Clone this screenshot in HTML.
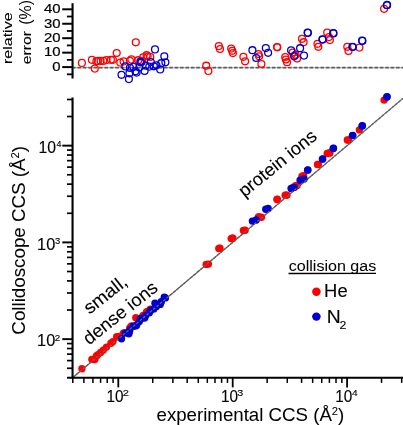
<!DOCTYPE html>
<html><head><meta charset="utf-8"><title>Collidoscope CCS</title>
<style>
html,body{margin:0;padding:0;background:#fff;}
svg{display:block;}
text{font-family:"Liberation Sans",sans-serif;}
</style></head><body>
<svg width="403" height="425" viewBox="0 0 403 425">
<defs><filter id="soft" x="0" y="0" width="403" height="425" filterUnits="userSpaceOnUse"><feGaussianBlur stdDeviation="0.32"/></filter></defs>
<rect width="403" height="425" fill="#fff"/>
<g filter="url(#soft)">
<line x1="73.55" y1="67.65" x2="403" y2="67.65" stroke="#b8b8b8" stroke-width="1.3"/>
<line x1="73.55" y1="67.65" x2="403" y2="67.65" stroke="#5c5c5c" stroke-width="1.6" stroke-dasharray="3.6 1.8" stroke-dashoffset="1.5"/>
<line x1="72.55" y1="377.70" x2="403" y2="98.37" stroke="#585858" stroke-width="1.15"/>
<g fill="#ff0000">
<circle cx="81.9" cy="368.7" r="3.7"/>
<circle cx="91.9" cy="359.4" r="3.7"/>
<circle cx="94.8" cy="359.5" r="3.7"/>
<circle cx="96.4" cy="356.0" r="3.7"/>
<circle cx="98.0" cy="354.6" r="3.7"/>
<circle cx="100.6" cy="352.4" r="3.7"/>
<circle cx="103.3" cy="350.1" r="3.7"/>
<circle cx="106.5" cy="347.1" r="3.7"/>
<circle cx="110.9" cy="343.3" r="3.7"/>
<circle cx="112.9" cy="341.6" r="3.7"/>
<circle cx="116.7" cy="336.6" r="3.7"/>
<circle cx="120.3" cy="336.2" r="3.7"/>
<circle cx="123.6" cy="333.0" r="3.7"/>
<circle cx="131.4" cy="325.9" r="3.7"/>
<circle cx="129.9" cy="327.6" r="3.7"/>
<circle cx="138.3" cy="320.3" r="3.7"/>
<circle cx="143.1" cy="315.4" r="3.7"/>
<circle cx="135.8" cy="317.7" r="3.7"/>
<circle cx="146.6" cy="311.9" r="3.7"/>
<circle cx="147.6" cy="311.4" r="3.7"/>
<circle cx="150.3" cy="309.2" r="3.7"/>
<circle cx="142.0" cy="317.4" r="3.7"/>
<circle cx="206.2" cy="264.4" r="3.7"/>
<circle cx="208.4" cy="264.1" r="3.7"/>
<circle cx="218.8" cy="248.5" r="3.7"/>
<circle cx="220.0" cy="248.2" r="3.7"/>
<circle cx="231.2" cy="238.6" r="3.7"/>
<circle cx="232.2" cy="238.3" r="3.7"/>
<circle cx="232.9" cy="238.3" r="3.7"/>
<circle cx="243.4" cy="230.5" r="3.7"/>
<circle cx="245.1" cy="230.3" r="3.7"/>
<circle cx="258.4" cy="217.0" r="3.7"/>
<circle cx="259.1" cy="217.0" r="3.7"/>
<circle cx="261.4" cy="217.2" r="3.7"/>
<circle cx="277.0" cy="199.5" r="3.7"/>
<circle cx="277.3" cy="199.3" r="3.7"/>
<circle cx="285.2" cy="195.2" r="3.7"/>
<circle cx="285.9" cy="195.3" r="3.7"/>
<circle cx="287.0" cy="195.1" r="3.7"/>
<circle cx="292.6" cy="187.7" r="3.7"/>
<circle cx="294.6" cy="186.8" r="3.7"/>
<circle cx="295.6" cy="185.8" r="3.7"/>
<circle cx="297.1" cy="185.5" r="3.7"/>
<circle cx="302.0" cy="176.3" r="3.7"/>
<circle cx="303.6" cy="175.8" r="3.7"/>
<circle cx="317.5" cy="164.4" r="3.7"/>
<circle cx="318.3" cy="164.5" r="3.7"/>
<circle cx="327.2" cy="153.5" r="3.7"/>
<circle cx="329.0" cy="153.0" r="3.7"/>
<circle cx="329.9" cy="153.0" r="3.7"/>
<circle cx="347.3" cy="140.0" r="3.7"/>
<circle cx="348.5" cy="140.0" r="3.7"/>
<circle cx="359.4" cy="129.9" r="3.7"/>
<circle cx="384.1" cy="100.1" r="3.7"/>
</g>
<g fill="#0000cd">
<circle cx="121.5" cy="338.7" r="3.7"/>
<circle cx="128.9" cy="333.8" r="3.7"/>
<circle cx="125.4" cy="332.9" r="3.7"/>
<circle cx="129.9" cy="329.6" r="3.7"/>
<circle cx="129.4" cy="331.6" r="3.7"/>
<circle cx="133.4" cy="326.3" r="3.7"/>
<circle cx="135.4" cy="325.9" r="3.7"/>
<circle cx="140.3" cy="319.0" r="3.7"/>
<circle cx="139.3" cy="321.5" r="3.7"/>
<circle cx="144.6" cy="318.1" r="3.7"/>
<circle cx="145.6" cy="315.7" r="3.7"/>
<circle cx="149.3" cy="312.8" r="3.7"/>
<circle cx="150.8" cy="310.2" r="3.7"/>
<circle cx="153.8" cy="308.9" r="3.7"/>
<circle cx="141.0" cy="318.6" r="3.7"/>
<circle cx="156.4" cy="306.4" r="3.7"/>
<circle cx="161.3" cy="301.7" r="3.7"/>
<circle cx="160.2" cy="304.4" r="3.7"/>
<circle cx="165.4" cy="297.9" r="3.7"/>
<circle cx="164.3" cy="297.2" r="3.7"/>
<circle cx="155.0" cy="303.3" r="3.7"/>
<circle cx="136.6" cy="325.3" r="3.7"/>
<circle cx="252.4" cy="221.1" r="3.7"/>
<circle cx="256.2" cy="220.0" r="3.7"/>
<circle cx="265.8" cy="209.2" r="3.7"/>
<circle cx="268.1" cy="208.5" r="3.7"/>
<circle cx="291.1" cy="188.4" r="3.7"/>
<circle cx="294.1" cy="187.4" r="3.7"/>
<circle cx="300.1" cy="180.2" r="3.7"/>
<circle cx="304.0" cy="178.9" r="3.7"/>
<circle cx="307.6" cy="170.1" r="3.7"/>
<circle cx="307.9" cy="169.9" r="3.7"/>
<circle cx="322.4" cy="159.1" r="3.7"/>
<circle cx="322.7" cy="159.0" r="3.7"/>
<circle cx="333.2" cy="148.5" r="3.7"/>
<circle cx="333.5" cy="148.3" r="3.7"/>
<circle cx="352.4" cy="135.6" r="3.7"/>
<circle cx="352.8" cy="135.4" r="3.7"/>
<circle cx="362.1" cy="125.9" r="3.7"/>
<circle cx="362.4" cy="125.7" r="3.7"/>
<circle cx="386.8" cy="97.0" r="3.7"/>
<circle cx="387.1" cy="96.8" r="3.7"/>
</g>
<line x1="72.55" y1="377.70" x2="403" y2="98.37" stroke="#666" stroke-width="1.3" stroke-dasharray="2.8 1.6"/>
<g fill="none" stroke="#ff0000" stroke-width="1.3">
<circle cx="81.9" cy="62.9" r="3.45"/>
<circle cx="91.9" cy="59.8" r="3.45"/>
<circle cx="94.8" cy="68.6" r="3.45"/>
<circle cx="96.4" cy="61.2" r="3.45"/>
<circle cx="98.0" cy="60.9" r="3.45"/>
<circle cx="100.6" cy="60.9" r="3.45"/>
<circle cx="103.3" cy="60.9" r="3.45"/>
<circle cx="106.5" cy="60.1" r="3.45"/>
<circle cx="110.9" cy="59.8" r="3.45"/>
<circle cx="112.9" cy="59.8" r="3.45"/>
<circle cx="116.7" cy="53.0" r="3.45"/>
<circle cx="120.3" cy="62.6" r="3.45"/>
<circle cx="123.6" cy="61.4" r="3.45"/>
<circle cx="131.4" cy="59.4" r="3.45"/>
<circle cx="129.9" cy="60.9" r="3.45"/>
<circle cx="138.3" cy="60.2" r="3.45"/>
<circle cx="143.1" cy="57.3" r="3.45"/>
<circle cx="135.8" cy="42.3" r="3.45"/>
<circle cx="146.6" cy="55.2" r="3.45"/>
<circle cx="147.6" cy="56.5" r="3.45"/>
<circle cx="150.3" cy="56.9" r="3.45"/>
<circle cx="142" cy="61.2" r="3.45"/>
<circle cx="206.2" cy="65.7" r="3.45"/>
<circle cx="208.4" cy="70.9" r="3.45"/>
<circle cx="218.8" cy="46.1" r="3.45"/>
<circle cx="220" cy="49" r="3.45"/>
<circle cx="231.2" cy="48.6" r="3.45"/>
<circle cx="232.2" cy="50.8" r="3.45"/>
<circle cx="232.9" cy="53.1" r="3.45"/>
<circle cx="243.4" cy="56.8" r="3.45"/>
<circle cx="245.1" cy="61.3" r="3.45"/>
<circle cx="258.4" cy="54" r="3.45"/>
<circle cx="259.1" cy="56.3" r="3.45"/>
<circle cx="261.4" cy="64" r="3.45"/>
<circle cx="277" cy="47" r="3.45"/>
<circle cx="277.3" cy="47.3" r="3.45"/>
<circle cx="285.2" cy="57" r="3.45"/>
<circle cx="285.9" cy="59.5" r="3.45"/>
<circle cx="287" cy="62.2" r="3.45"/>
<circle cx="292.6" cy="52.5" r="3.45"/>
<circle cx="294.6" cy="55.5" r="3.45"/>
<circle cx="295.6" cy="54.8" r="3.45"/>
<circle cx="297.1" cy="58.5" r="3.45"/>
<circle cx="302" cy="38.8" r="3.45"/>
<circle cx="303.6" cy="42.2" r="3.45"/>
<circle cx="317.5" cy="43.8" r="3.45"/>
<circle cx="318.3" cy="46.8" r="3.45"/>
<circle cx="327.2" cy="32.6" r="3.45"/>
<circle cx="329" cy="37.1" r="3.45"/>
<circle cx="329.9" cy="40.1" r="3.45"/>
<circle cx="347.3" cy="46.8" r="3.45"/>
<circle cx="348.5" cy="51" r="3.45"/>
<circle cx="359.4" cy="47.6" r="3.45"/>
<circle cx="384.1" cy="8.8" r="3.45"/>
</g>
<g fill="none" stroke="#0000cd" stroke-width="1.3">
<circle cx="121.5" cy="74.8" r="3.45"/>
<circle cx="128.9" cy="79.1" r="3.45"/>
<circle cx="125.4" cy="66.4" r="3.45"/>
<circle cx="129.9" cy="67.9" r="3.45"/>
<circle cx="129.4" cy="73.3" r="3.45"/>
<circle cx="133.4" cy="66.9" r="3.45"/>
<circle cx="135.4" cy="71.3" r="3.45"/>
<circle cx="140.3" cy="61.6" r="3.45"/>
<circle cx="139.3" cy="67.4" r="3.45"/>
<circle cx="144.6" cy="71.0" r="3.45"/>
<circle cx="145.6" cy="65.7" r="3.45"/>
<circle cx="149.3" cy="66.6" r="3.45"/>
<circle cx="150.8" cy="62.1" r="3.45"/>
<circle cx="153.8" cy="66.3" r="3.45"/>
<circle cx="141" cy="62.5" r="3.45"/>
<circle cx="156.4" cy="65.3" r="3.45"/>
<circle cx="161.3" cy="63.2" r="3.45"/>
<circle cx="160.2" cy="69.4" r="3.45"/>
<circle cx="165.4" cy="62.3" r="3.45"/>
<circle cx="164.3" cy="56.3" r="3.45"/>
<circle cx="155" cy="49.4" r="3.45"/>
<circle cx="136.6" cy="72.6" r="3.45"/>
<circle cx="252.4" cy="50.2" r="3.45"/>
<circle cx="256.2" cy="58" r="3.45"/>
<circle cx="265.8" cy="48.1" r="3.45"/>
<circle cx="268.1" cy="52.8" r="3.45"/>
<circle cx="291.1" cy="50.3" r="3.45"/>
<circle cx="294.1" cy="56.3" r="3.45"/>
<circle cx="300.1" cy="48.2" r="3.45"/>
<circle cx="304" cy="55.6" r="3.45"/>
<circle cx="307.6" cy="32.6" r="3.45"/>
<circle cx="307.9" cy="32.9" r="3.45"/>
<circle cx="322.4" cy="39.3" r="3.45"/>
<circle cx="322.7" cy="39.6" r="3.45"/>
<circle cx="333.2" cy="33.1" r="3.45"/>
<circle cx="333.5" cy="33.4" r="3.45"/>
<circle cx="352.4" cy="46.8" r="3.45"/>
<circle cx="352.8" cy="47.0" r="3.45"/>
<circle cx="362.1" cy="40.6" r="3.45"/>
<circle cx="362.4" cy="40.9" r="3.45"/>
<circle cx="386.8" cy="4.9" r="3.45"/>
<circle cx="387.1" cy="5.2" r="3.45"/>
</g>
<g stroke="#000" fill="none">
<line x1="72.55" y1="3.2" x2="72.55" y2="78.5" stroke-width="2.1"/>
<line x1="66.9" y1="74.32" x2="72.55" y2="74.32" stroke-width="1.8"/>
<line x1="62.2" y1="67.10" x2="72.55" y2="67.10" stroke-width="2.0"/>
<line x1="66.9" y1="59.87" x2="72.55" y2="59.87" stroke-width="1.8"/>
<line x1="62.2" y1="52.65" x2="72.55" y2="52.65" stroke-width="2.0"/>
<line x1="66.9" y1="45.42" x2="72.55" y2="45.42" stroke-width="1.8"/>
<line x1="62.2" y1="38.20" x2="72.55" y2="38.20" stroke-width="2.0"/>
<line x1="66.9" y1="30.97" x2="72.55" y2="30.97" stroke-width="1.8"/>
<line x1="62.2" y1="23.75" x2="72.55" y2="23.75" stroke-width="2.0"/>
<line x1="66.9" y1="16.52" x2="72.55" y2="16.52" stroke-width="1.8"/>
<line x1="62.2" y1="9.30" x2="72.55" y2="9.30" stroke-width="2.0"/>
<line x1="72.55" y1="97.49" x2="72.55" y2="378.70" stroke-width="2.1"/>
<line x1="67.0" y1="377.7" x2="403" y2="377.7" stroke-width="1.9"/>
<line x1="72.78" y1="377.7" x2="72.78" y2="382.9" stroke-width="1.5"/>
<line x1="67.0" y1="368.27" x2="72.55" y2="368.27" stroke-width="1.7"/>
<line x1="83.86" y1="377.7" x2="83.86" y2="382.9" stroke-width="1.5"/>
<line x1="67.0" y1="360.61" x2="72.55" y2="360.61" stroke-width="1.7"/>
<line x1="92.92" y1="377.7" x2="92.92" y2="382.9" stroke-width="1.5"/>
<line x1="67.0" y1="354.14" x2="72.55" y2="354.14" stroke-width="1.7"/>
<line x1="100.58" y1="377.7" x2="100.58" y2="382.9" stroke-width="1.5"/>
<line x1="67.0" y1="348.53" x2="72.55" y2="348.53" stroke-width="1.7"/>
<line x1="107.21" y1="377.7" x2="107.21" y2="382.9" stroke-width="1.5"/>
<line x1="67.0" y1="343.58" x2="72.55" y2="343.58" stroke-width="1.7"/>
<line x1="113.07" y1="377.7" x2="113.07" y2="382.9" stroke-width="1.5"/>
<line x1="62.3" y1="339.15" x2="72.55" y2="339.15" stroke-width="1.95"/>
<line x1="118.30" y1="377.7" x2="118.30" y2="387.4" stroke-width="1.8"/>
<line x1="67.0" y1="310.03" x2="72.55" y2="310.03" stroke-width="1.7"/>
<line x1="152.74" y1="377.7" x2="152.74" y2="382.9" stroke-width="1.5"/>
<line x1="67.0" y1="292.99" x2="72.55" y2="292.99" stroke-width="1.7"/>
<line x1="172.88" y1="377.7" x2="172.88" y2="382.9" stroke-width="1.5"/>
<line x1="67.0" y1="280.90" x2="72.55" y2="280.90" stroke-width="1.7"/>
<line x1="187.18" y1="377.7" x2="187.18" y2="382.9" stroke-width="1.5"/>
<line x1="67.0" y1="271.52" x2="72.55" y2="271.52" stroke-width="1.7"/>
<line x1="198.26" y1="377.7" x2="198.26" y2="382.9" stroke-width="1.5"/>
<line x1="67.0" y1="263.86" x2="72.55" y2="263.86" stroke-width="1.7"/>
<line x1="207.32" y1="377.7" x2="207.32" y2="382.9" stroke-width="1.5"/>
<line x1="67.0" y1="257.39" x2="72.55" y2="257.39" stroke-width="1.7"/>
<line x1="214.98" y1="377.7" x2="214.98" y2="382.9" stroke-width="1.5"/>
<line x1="67.0" y1="251.78" x2="72.55" y2="251.78" stroke-width="1.7"/>
<line x1="221.61" y1="377.7" x2="221.61" y2="382.9" stroke-width="1.5"/>
<line x1="67.0" y1="246.83" x2="72.55" y2="246.83" stroke-width="1.7"/>
<line x1="227.47" y1="377.7" x2="227.47" y2="382.9" stroke-width="1.5"/>
<line x1="62.3" y1="242.40" x2="72.55" y2="242.40" stroke-width="1.95"/>
<line x1="232.70" y1="377.7" x2="232.70" y2="387.4" stroke-width="1.8"/>
<line x1="67.0" y1="213.28" x2="72.55" y2="213.28" stroke-width="1.7"/>
<line x1="267.14" y1="377.7" x2="267.14" y2="382.9" stroke-width="1.5"/>
<line x1="67.0" y1="196.24" x2="72.55" y2="196.24" stroke-width="1.7"/>
<line x1="287.28" y1="377.7" x2="287.28" y2="382.9" stroke-width="1.5"/>
<line x1="67.0" y1="184.15" x2="72.55" y2="184.15" stroke-width="1.7"/>
<line x1="301.58" y1="377.7" x2="301.58" y2="382.9" stroke-width="1.5"/>
<line x1="67.0" y1="174.77" x2="72.55" y2="174.77" stroke-width="1.7"/>
<line x1="312.66" y1="377.7" x2="312.66" y2="382.9" stroke-width="1.5"/>
<line x1="67.0" y1="167.11" x2="72.55" y2="167.11" stroke-width="1.7"/>
<line x1="321.72" y1="377.7" x2="321.72" y2="382.9" stroke-width="1.5"/>
<line x1="67.0" y1="160.64" x2="72.55" y2="160.64" stroke-width="1.7"/>
<line x1="329.38" y1="377.7" x2="329.38" y2="382.9" stroke-width="1.5"/>
<line x1="67.0" y1="155.03" x2="72.55" y2="155.03" stroke-width="1.7"/>
<line x1="336.01" y1="377.7" x2="336.01" y2="382.9" stroke-width="1.5"/>
<line x1="67.0" y1="150.08" x2="72.55" y2="150.08" stroke-width="1.7"/>
<line x1="341.87" y1="377.7" x2="341.87" y2="382.9" stroke-width="1.5"/>
<line x1="62.3" y1="145.65" x2="72.55" y2="145.65" stroke-width="1.95"/>
<line x1="347.10" y1="377.7" x2="347.10" y2="387.4" stroke-width="1.8"/>
<line x1="67.0" y1="116.53" x2="72.55" y2="116.53" stroke-width="1.7"/>
<line x1="381.54" y1="377.7" x2="381.54" y2="382.9" stroke-width="1.5"/>
<line x1="67.0" y1="99.49" x2="72.55" y2="99.49" stroke-width="1.7"/>
<line x1="401.68" y1="377.7" x2="401.68" y2="382.9" stroke-width="1.5"/>
</g>
<text transform="translate(44.20 13.05) rotate(0) scale(0.7462 0.6375)" x="-0.440" y="0" font-size="20.0" fill="#000" stroke="#000" stroke-width="0.318" stroke-linejoin="round">40</text>
<text transform="translate(44.44 27.50) rotate(0) scale(0.7462 0.6375)" x="-0.760" y="0" font-size="20.0" fill="#000" stroke="#000" stroke-width="0.318" stroke-linejoin="round">30</text>
<text transform="translate(44.62 41.95) rotate(0) scale(0.7462 0.6375)" x="-1.000" y="0" font-size="20.0" fill="#000" stroke="#000" stroke-width="0.318" stroke-linejoin="round">20</text>
<text transform="translate(45.01 56.40) rotate(0) scale(0.7462 0.6375)" x="-1.520" y="0" font-size="20.0" fill="#000" stroke="#000" stroke-width="0.318" stroke-linejoin="round">10</text>
<text transform="translate(52.77 70.85) rotate(0) scale(0.7462 0.6375)" x="-0.800" y="0" font-size="20.0" fill="#000" stroke="#000" stroke-width="0.318" stroke-linejoin="round">0</text>
<text transform="translate(39.80 152.85) rotate(0) scale(0.7876 0.7808)" x="-1.520" y="0" font-size="20.0" fill="#000" stroke="#000" stroke-width="0.153" stroke-linejoin="round">10</text>
<text transform="translate(56.80 147.15) rotate(0) scale(0.4464 0.4226)" x="-0.440" y="0" font-size="20.0" fill="#000" stroke="#000" stroke-width="0.276" stroke-linejoin="round">4</text>
<text transform="translate(38.30 249.60) rotate(0) scale(0.8176 0.7808)" x="-1.520" y="0" font-size="20.0" fill="#000" stroke="#000" stroke-width="0.150" stroke-linejoin="round">10</text>
<text transform="translate(55.30 243.90) rotate(0) scale(0.4747 0.4226)" x="-0.760" y="0" font-size="20.0" fill="#000" stroke="#000" stroke-width="0.267" stroke-linejoin="round">3</text>
<text transform="translate(38.30 346.35) rotate(0) scale(0.8176 0.7808)" x="-1.520" y="0" font-size="20.0" fill="#000" stroke="#000" stroke-width="0.150" stroke-linejoin="round">10</text>
<text transform="translate(55.30 340.65) rotate(0) scale(0.4934 0.4226)" x="-1.000" y="0" font-size="20.0" fill="#000" stroke="#000" stroke-width="0.262" stroke-linejoin="round">2</text>
<text transform="translate(107.70 401.50) rotate(0) scale(0.7665 0.7808)" x="-1.520" y="0" font-size="20.0" fill="#000" stroke="#000" stroke-width="0.155" stroke-linejoin="round">10</text>
<text transform="translate(123.30 396.30) rotate(0) scale(0.5592 0.4871)" x="-1.000" y="0" font-size="20.0" fill="#000" stroke="#000" stroke-width="0.229" stroke-linejoin="round">2</text>
<text transform="translate(222.10 401.50) rotate(0) scale(0.7665 0.7808)" x="-1.520" y="0" font-size="20.0" fill="#000" stroke="#000" stroke-width="0.155" stroke-linejoin="round">10</text>
<text transform="translate(237.70 396.30) rotate(0) scale(0.5380 0.4871)" x="-0.760" y="0" font-size="20.0" fill="#000" stroke="#000" stroke-width="0.234" stroke-linejoin="round">3</text>
<text transform="translate(336.50 401.50) rotate(0) scale(0.7665 0.7808)" x="-1.520" y="0" font-size="20.0" fill="#000" stroke="#000" stroke-width="0.155" stroke-linejoin="round">10</text>
<text transform="translate(352.10 396.30) rotate(0) scale(0.5060 0.4871)" x="-0.440" y="0" font-size="20.0" fill="#000" stroke="#000" stroke-width="0.242" stroke-linejoin="round">4</text>
<text transform="translate(157.30 421.30) rotate(0) scale(0.9343 0.9302)" x="-0.840" y="0" font-size="20.0" fill="#000" stroke="#000" stroke-width="0.054" stroke-linejoin="round">experimental CCS (Å<tspan font-size="12.000" dy="-6.600">2</tspan><tspan dy="6.600">)</tspan></text>
<text transform="translate(25.40 333.70) rotate(-90) scale(0.9380 0.9530)" x="-1.000" y="0" font-size="20.0" fill="#000" stroke="#000" stroke-width="0.063" stroke-linejoin="round">Collidoscope CCS (Å<tspan font-size="12.000" dy="-6.600">2</tspan><tspan dy="6.600">)</tspan></text>
<text transform="translate(11.90 62.90) rotate(-90) scale(0.7996 0.6492)" x="-1.320" y="0" font-size="20.0" fill="#000" stroke="#000" stroke-width="0.138" stroke-linejoin="round">relative</text>
<text transform="translate(30.90 63.70) rotate(-90) scale(0.7895 0.6768)" x="-0.840" y="0" font-size="20.0" fill="#000" stroke="#000" stroke-width="0.136" stroke-linejoin="round">error</text>
<text transform="translate(31.00 23.80) rotate(-90) scale(0.7972 0.8141)" x="-1.240" y="0" font-size="20.0" fill="#000">(%)</text>
<text transform="translate(89.80 314.50) rotate(-38.2) scale(0.9583 0.9116)" x="-0.560" y="0" font-size="20.0" fill="#000" stroke="#000" stroke-width="0.128" stroke-linejoin="round">small,</text>
<text transform="translate(89.50 345.00) rotate(-38.5) scale(0.9258 0.9116)" x="-0.840" y="0" font-size="20.0" fill="#000" stroke="#000" stroke-width="0.131" stroke-linejoin="round">dense ions</text>
<text transform="translate(245.30 197.10) rotate(-39.0) scale(0.9172 0.9116)" x="-1.280" y="0" font-size="20.0" fill="#000" stroke="#000" stroke-width="0.131" stroke-linejoin="round">protein ions</text>
<text transform="translate(289.40 271.10) rotate(0) scale(0.8035 0.7528)" x="-0.840" y="0" font-size="20.0" fill="#000" stroke="#000" stroke-width="0.064" stroke-linejoin="round">collision gas</text>
<line x1="288.5" y1="273.5" x2="376" y2="273.4" stroke="#000" stroke-width="1.3"/>
<ellipse cx="316.4" cy="291.8" rx="4.3" ry="4.2" fill="#ff0000"/>
<ellipse cx="316.4" cy="316.6" rx="4.3" ry="4.2" fill="#0000cd"/>
<text transform="translate(325.60 297.40) rotate(0) scale(0.9201 0.9012)" x="-1.640" y="0" font-size="20.0" fill="#000" stroke="#000" stroke-width="0.132" stroke-linejoin="round">He</text>
<text transform="translate(328.40 322.50) rotate(0) scale(0.9677 0.9230)" x="-1.640" y="0" font-size="20.0" fill="#000" stroke="#000" stroke-width="0.127" stroke-linejoin="round">N</text>
<text transform="translate(340.10 329.00) rotate(0) scale(0.6140 0.5731)" x="-1.000" y="0" font-size="20.0" fill="#000" stroke="#000" stroke-width="0.202" stroke-linejoin="round">2</text>
</g>
</svg>
</body></html>
